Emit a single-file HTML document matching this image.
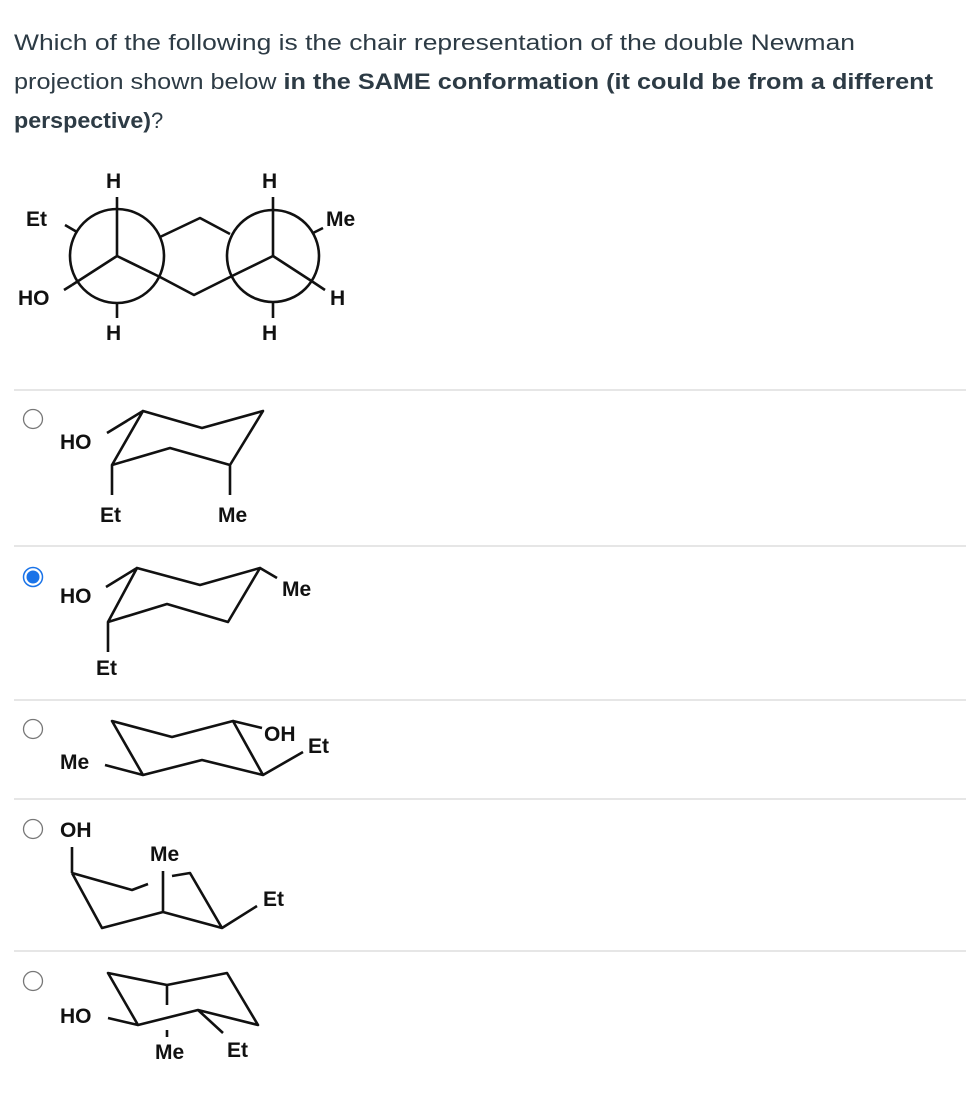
<!DOCTYPE html>
<html><head><meta charset="utf-8"><style>
html,body{margin:0;padding:0;background:#fff;}
svg{display:block;}
.q{font-family:"Liberation Sans",sans-serif;font-size:22px;fill:#2d3b45;}
.b{font-weight:bold;}
.l{font-family:"Liberation Sans",sans-serif;font-size:21px;font-weight:bold;fill:#111;}
.m{fill:none;stroke:#111;stroke-width:2.6;stroke-linejoin:round;stroke-linecap:butt;}
</style></head><body>
<svg width="966" height="1103" viewBox="0 0 966 1103" xmlns="http://www.w3.org/2000/svg">
<text class="q" x="14" y="50" textLength="841" lengthAdjust="spacingAndGlyphs">Which of the following is the chair representation of the double Newman</text>
<text class="q" x="14" y="89" textLength="919" lengthAdjust="spacingAndGlyphs">projection shown below <tspan class="b">in the SAME conformation (it could be from a different</tspan></text>
<text class="q b" x="14" y="128" textLength="137" lengthAdjust="spacingAndGlyphs">perspective)</text><text class="q" x="151" y="128">?</text>

<!-- Newman -->
<g class="m">
<circle cx="117" cy="256" r="47"/>
<circle cx="273" cy="256" r="46"/>
<path d="M117 197V256L72 285M117 256L160 277L194 295L230 277L273 256L313 282L325 290"/>
<path d="M160 237L200 218L230 234"/>
<path d="M65 225L77 232M72 285L64 290M117 303V318M273 197V256M273 302V318M313 233L323 228"/>
</g>
<g class="l">
<text x="106" y="188">H</text><text x="262" y="188">H</text>
<text x="26" y="226">Et</text><text x="326" y="226">Me</text>
<text x="18" y="305">HO</text><text x="330" y="305">H</text>
<text x="106" y="340">H</text><text x="262" y="340">H</text>
</g>

<g stroke="#ddd" stroke-width="1.5">
<line x1="14" y1="390" x2="966" y2="390"/><line x1="14" y1="546" x2="966" y2="546"/>
<line x1="14" y1="700" x2="966" y2="700"/><line x1="14" y1="799" x2="966" y2="799"/>
<line x1="14" y1="951" x2="966" y2="951"/>
</g>

<!-- radios -->
<g fill="#fff" stroke="#777" stroke-width="1.3">
<circle cx="33" cy="419" r="9.5"/><circle cx="33" cy="729" r="9.5"/>
<circle cx="33" cy="829" r="9.5"/><circle cx="33" cy="981" r="9.5"/>
</g>
<circle cx="33" cy="577" r="9.5" fill="#fff" stroke="#1a73e8" stroke-width="1.5"/>
<circle cx="33" cy="577" r="6.5" fill="#1a73e8"/>

<!-- option 1 -->
<path class="m" d="M143 411L202 428L263 411L230 465L170 448L112 465Z M143 411L107 433 M112 465V495 M230 465V495"/>
<g class="l"><text x="60" y="449">HO</text><text x="100" y="522">Et</text><text x="218" y="522">Me</text></g>

<!-- option 2 -->
<path class="m" d="M137 568L200 585L260 568L228 622L167 604L108 622Z M137 568L106 587 M108 622V652 M260 568L277 578"/>
<g class="l"><text x="60" y="603">HO</text><text x="282" y="596">Me</text><text x="96" y="675">Et</text></g>

<!-- option 3 -->
<path class="m" d="M112 721L172 737L233 721L263 775L202 760L143 775Z M233 721L262 728 M263 775L303 752 M143 775L105 765"/>
<g class="l"><text x="60" y="769">Me</text><text x="264" y="741">OH</text><text x="308" y="753">Et</text></g>

<!-- option 4 -->
<path class="m" d="M72 873L132 890L148 884 M172 876L190 873L222 928L163 912L102 928L72 873 M163 871V912 M72 873V847 M222 928L257 906"/>
<g class="l"><text x="60" y="837">OH</text><text x="150" y="861">Me</text><text x="263" y="906">Et</text></g>

<!-- option 5 -->
<path class="m" d="M108 973L167 985L227 973L258 1025L198 1010L138 1025Z M138 1025L108 1018 M167 985V1005 M167 1030V1037 M198 1010L223 1033"/>
<g class="l"><text x="60" y="1023">HO</text><text x="155" y="1059">Me</text><text x="227" y="1057">Et</text></g>
</svg>
</body></html>
